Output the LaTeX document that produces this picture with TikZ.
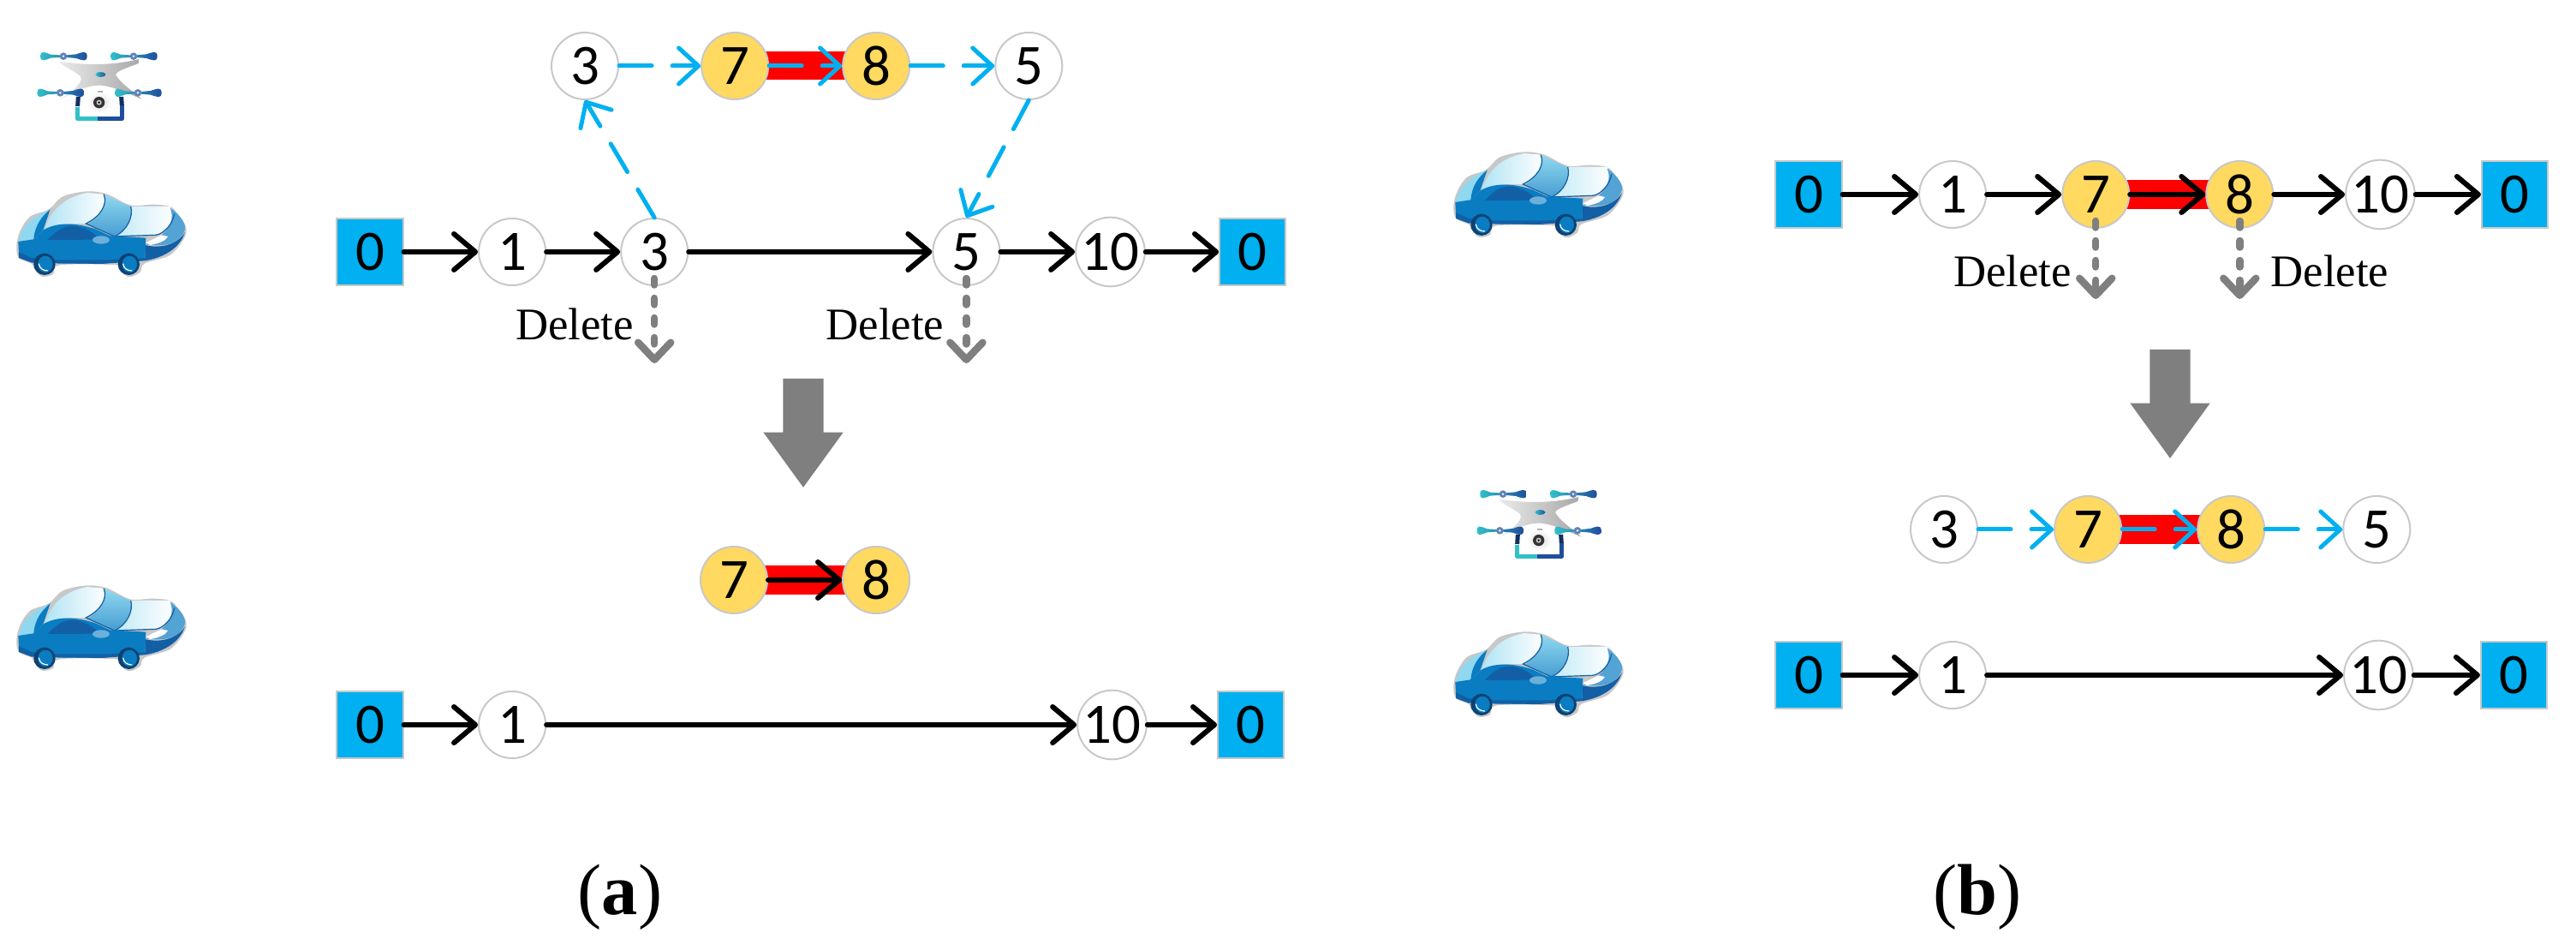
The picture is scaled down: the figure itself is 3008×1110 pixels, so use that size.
\documentclass[tikz,border=0pt]{standalone}
\usepackage{fontspec}
\setmainfont{Carlito}
\newfontfamily\delfont{Liberation Serif}
\usetikzlibrary{shapes.arrows, arrows.meta, backgrounds}
\definecolor{skyblue}{HTML}{00B0F0}
\definecolor{ringgray}{HTML}{C8C8C8}
\definecolor{swapgold}{HTML}{FFD960}
\definecolor{delgray}{HTML}{7F7F7F}
\definecolor{carblue}{HTML}{0A7CC2}
\definecolor{cardark}{HTML}{125FA5}
\definecolor{carlight}{HTML}{8FD8F0}
\definecolor{rotorteal}{HTML}{30C0C8}
\definecolor{rotornavy}{HTML}{1F4E9C}
\tikzstyle{depot} = [rectangle, minimum width=.77cm, minimum height=.78cm, inner sep=0, text centered, draw=ringgray, line width=.02cm, fill=skyblue, font=\fontsize{19}{22}\selectfont]
\tikzstyle{custnode} = [circle, minimum size=.78cm, inner sep=0, text centered, draw=ringgray, line width=.02cm, fill=white, font=\fontsize{19}{22}\selectfont]
\tikzstyle{swapnode} = [custnode, fill=swapgold]
\tikzstyle{deltext} = [inner sep=0, font=\delfont\fontsize{15}{18}\selectfont]
\tikzstyle{subcap} = [inner sep=0, font=\delfont\fontsize{24}{28}\selectfont]
\tikzstyle{arrow} = [line width=.06cm, line cap=round, -{Straight Barb[length=.25cm, width=.42cm, line width=.06cm, round]}]
\tikzstyle{uavarrow} = [line width=.05cm, line cap=round, draw=skyblue, dash pattern=on .38cm off .24cm, -{Straight Barb[length=.23cm, width=.42cm, line width=.05cm, round]}]
\tikzstyle{delarrow} = [line width=.085cm, line cap=round, draw=delgray, dash pattern=on .075cm off .155cm, -{Straight Barb[length=.2cm, width=.38cm, line width=.085cm, round]}]
\tikzstyle{redlink} = [line width=.33cm, draw=red]
\tikzstyle{blockarrow} = [single arrow, rotate=-90, fill=delgray, inner sep=.23cm, minimum width=.92cm, minimum height=1.27cm, single arrow head extend=.23cm, single arrow tip angle=72]
\tikzset{
  car/.pic={
    \fill [ringgray] plot [smooth cycle, tension=.55] coordinates {(52,270) (65,220) (100,170) (165,145) (215,100) (300,82) (370,92) (450,130) (530,128) (590,135) (615,160) (645,205) (640,245) (590,305) (500,335) (485,365) (445,382) (410,355) (400,340) (205,340) (180,372) (140,380) (112,350) (105,335) (60,315)};
    \fill [carlight] (60,258) .. controls (66,215) and (100,170) .. (165,150) -- (130,190) -- (112,250) -- cycle;
    \fill [carblue] (112,250) .. controls (116,200) and (140,170) .. (170,145) -- (145,218) -- cycle;
    \shade [left color=carlight!70, middle color=white, right color=white] (150,215) .. controls (170,160) and (205,105) .. (300,87) -- (355,92) .. controls (370,125) and (345,170) .. (295,195) -- (230,195) -- cycle;
    \shade [top color=carlight, bottom color=carblue!75] (355,92) -- (450,135) .. controls (462,170) and (440,220) .. (395,240) -- (300,198) .. controls (345,170) and (375,125) .. (355,92) -- cycle;
    \shade [left color=carlight!55, right color=white] (455,135) -- (590,135) -- (605,160) .. controls (600,195) and (570,230) .. (540,235) -- (395,240) .. controls (440,220) and (462,170) .. (455,135) -- cycle;
    \fill [carblue!70] (590,140) .. controls (620,160) and (645,190) .. (642,215) .. controls (630,255) and (590,280) .. (505,268) -- (560,235) .. controls (590,210) and (605,175) .. (590,140) -- cycle;
    \fill [cardark] (502,270) .. controls (560,285) and (620,265) .. (642,225) .. controls (630,265) and (590,310) .. (502,325) -- cycle;
    \draw [cardark, line width=.012cm] (358,92) .. controls (372,130) and (345,170) .. (295,195) -- (395,240) .. controls (440,220) and (462,170) .. (452,135);
    \draw [cardark, line width=.012cm] (395,240) -- (540,235) .. controls (570,230) and (600,195) .. (605,160);
    \fill [carblue] (58,258) -- (112,250) -- (145,218) .. controls (190,190) and (260,190) .. (330,215) -- (380,238) -- (505,245) -- (502,320) -- (350,335) -- (200,335) -- (105,320) -- (60,300) -- cycle;
    \fill [cardark] (60,295) -- (105,315) -- (190,322) -- (380,322) -- (505,316) -- (502,325) -- (350,336) -- (105,332) -- (60,315) -- cycle;
    \fill [cardark] (160,252) .. controls (190,225) and (205,205) .. (250,203) .. controls (290,205) and (325,230) .. (345,250) -- (250,252) -- cycle;
    \fill [carblue!60] (348,252) ellipse [x radius=30, y radius=14];
    \fill [white] (505,262) -- (560,235) -- (582,240) .. controls (575,255) and (550,265) .. (520,270) -- cycle;
    \foreach \wx in {150, 445} {
      \fill [cardark!70!black] (\wx,337) circle [radius=38];
      \fill [carblue] (\wx+3,337) ellipse [x radius=26, y radius=29];
      \draw [white, line width=.012cm] (\wx-20,335) .. controls (\wx-18,352) and (\wx-5,360) .. (\wx+12,360);
    }
  },
  drone/.pic={
    \shade [left color=gray!15, right color=gray!70] (120,68) .. controls (200,80) and (300,85) .. (400,60) -- (398,75) .. controls (360,90) and (310,105) .. (320,118) .. controls (340,150) and (390,180) .. (410,200) .. controls (340,170) and (290,150) .. (255,152) .. controls (200,155) and (150,190) .. (115,205) .. controls (150,185) and (210,145) .. (195,120) .. controls (180,105) and (130,85) .. (120,68) -- cycle;
    \shade [left color=rotorteal, right color=rotornavy] (247,114) .. controls (250,102) and (280,102) .. (284,114) .. controls (280,126) and (250,126) .. (247,114) -- cycle;
    \foreach \rx/\ry in {135/50, 381/50, 124/178, 396/178} {
      \shade [left color=rotorteal, right color=rotornavy] (\rx-80,\ry) .. controls (\rx-80,\ry-22) and (\rx-65,\ry-14) .. (\rx-45,\ry-6) -- (\rx,\ry-3) -- (\rx+45,\ry-7) .. controls (\rx+65,\ry-14) and (\rx+83,\ry-22) .. (\rx+83,\ry) .. controls (\rx+83,\ry+22) and (\rx+65,\ry+14) .. (\rx+45,\ry+7) -- (\rx,\ry+3) -- (\rx-45,\ry+6) .. controls (\rx-65,\ry+14) and (\rx-80,\ry+22) .. (\rx-80,\ry) -- cycle;
      \fill [rotornavy!70] (\rx,\ry) circle [radius=13];
      \fill [white] (\rx,\ry) circle [radius=4];
    }
    \fill [gray!70] (255,170) rectangle (273,184);
    \shade [inner color=gray!30, outer color=white] (262,212) ellipse [x radius=44, y radius=36];
    \fill [black!80] (260,212) circle [radius=20];
    \fill [gray!40] (260,212) circle [radius=9];
    \fill [black] (260,212) circle [radius=4];
    \draw [rotornavy!60!black, line width=.05cm] (187,192) -- (185,225);
    \draw [rotorteal, line width=.05cm, line join=round] (185,228) -- (185,268) -- (255,268);
    \draw [rotornavy, line width=.05cm, line join=round] (255,268) -- (340,268) -- (340,222);
    \draw [rotornavy!60!black, line width=.05cm] (338,192) -- (340,222);
  }
}
\begin{document}
\begin{tikzpicture}[x=.01cm, y=-.01cm, node distance=1.66cm]
    \useasboundingbox (0,0) rectangle (3008,1110);

    % part a
    \pic [scale=1/3] at (29,49) {drone};
    \pic [scale=1/3] at (2,196) {car};
    \pic [scale=1/3] at (2,656) {car};

    \node (a0) [depot] at (432,294) {0};
    \node (a1) [custnode, right of=a0] {1};
    \node (a3) [custnode, right of=a1] {3};
    \node (a5) [custnode, right of=a3, node distance=3.64cm] {5};
    \node (a10) [custnode, right of=a5, node distance=1.68cm] {10};
    \node (a00) [depot, right of=a10] {0};

    \node (u3) [custnode] at (683,77) {3};
    \node (u7) [swapnode, right of=u3, node distance=1.75cm] {7};
    \node (u8) [swapnode, right of=u7, node distance=1.65cm] {8};
    \node (u5) [custnode, right of=u8, node distance=1.78cm] {5};

    \draw [arrow] (a0) -- (a1);
    \draw [arrow] (a1) -- (a3);
    \draw [arrow] (a3) -- (a5);
    \draw [arrow] (a5) -- (a10);
    \draw [arrow] (a10) -- (a00);

    \begin{scope}[on background layer]
        \draw [redlink] (u7.center) -- (u8.center);
    \end{scope}
    \draw [uavarrow] (a3.north) -- (u3.south);
    \draw [uavarrow] (u3) -- (u7);
    \draw [uavarrow] (u7) -- (u8);
    \draw [uavarrow] (u8) -- (u5);
    \draw [uavarrow] (u5.south) -- (a5.north);

    \node (gone3) [coordinate, below of=a3, node distance=1.30cm] {};
    \node (gone5) [coordinate, below of=a5, node distance=1.30cm] {};
    \draw [delarrow] ([yshift=.09cm]a3.south) -- (gone3);
    \draw [delarrow] ([yshift=.09cm]a5.south) -- (gone5);
    \node (del3) [deltext, below of=a3, node distance=.84cm, xshift=-.93cm] {Delete};
    \node (del5) [deltext, below of=a5, node distance=.84cm, xshift=-.95cm] {Delete};

    \node (blka) [blockarrow] at (938,489) {};

    \node (c7) [swapnode] at (857,677) {7};
    \node (c8) [swapnode, right of=c7] {8};
    \begin{scope}[on background layer]
        \draw [redlink] (c7.center) -- (c8.center);
    \end{scope}
    \draw [arrow] (c7) -- (c8);

    \node (d0) [depot] at (432,846) {0};
    \node (d1) [custnode, right of=d0] {1};
    \node (d10) [custnode, right of=d1, node distance=7.00cm] {10};
    \node (d00) [depot, right of=d10, node distance=1.62cm] {0};
    \draw [arrow] (d0) -- (d1);
    \draw [arrow] (d1) -- (d10);
    \draw [arrow] (d10) -- (d00);

    \node (capa) [subcap] at (724,1047) {(\textbf{a})};

    % part b
    \pic [scale=1/3] at (1680,150) {car};
    \pic [scale=1/3] at (1710,560) {drone};
    \pic [scale=1/3] at (1680,710) {car};

    \node (e0) [depot] at (2112,227) {0};
    \node (e1) [custnode, right of=e0, node distance=1.68cm] {1};
    \node (e7) [swapnode, right of=e1, node distance=1.67cm] {7};
    \node (e8) [swapnode, right of=e7, node distance=1.68cm] {8};
    \node (e10) [custnode, right of=e8, node distance=1.64cm] {10};
    \node (e00) [depot, right of=e10, node distance=1.57cm] {0};
    \begin{scope}[on background layer]
        \draw [redlink] (e7.center) -- (e8.center);
    \end{scope}
    \draw [arrow] (e0) -- (e1);
    \draw [arrow] (e1) -- (e7);
    \draw [arrow] (e7) -- (e8);
    \draw [arrow] (e8) -- (e10);
    \draw [arrow] (e10) -- (e00);

    \node (gone7) [coordinate, below of=e7, node distance=1.22cm] {};
    \node (gone8) [coordinate, below of=e8, node distance=1.22cm] {};
    \draw [delarrow] ([yshift=.09cm]e7.south) -- (gone7);
    \draw [delarrow] ([yshift=.09cm]e8.south) -- (gone8);
    \node (del7) [deltext, below of=e7, node distance=.89cm, xshift=-.97cm] {Delete};
    \node (del8) [deltext, below of=e8, node distance=.89cm, xshift=1.05cm] {Delete};

    \node (blkb) [blockarrow] at (2534,455) {};

    \node (f3) [custnode] at (2270,618) {3};
    \node (f7) [swapnode, right of=f3, node distance=1.68cm] {7};
    \node (f8) [swapnode, right of=f7, node distance=1.67cm] {8};
    \node (f5) [custnode, right of=f8, node distance=1.70cm] {5};
    \begin{scope}[on background layer]
        \draw [redlink] (f7.center) -- (f8.center);
    \end{scope}
    \draw [uavarrow] (f3) -- (f7);
    \draw [uavarrow] (f7) -- (f8);
    \draw [uavarrow] (f8) -- (f5);

    \node (g0) [depot] at (2112,788) {0};
    \node (g1) [custnode, right of=g0, node distance=1.68cm] {1};
    \node (g10) [custnode, right of=g1, node distance=4.97cm] {10};
    \node (g00) [depot, right of=g10, node distance=1.58cm] {0};
    \draw [arrow] (g0) -- (g1);
    \draw [arrow] (g1) -- (g10);
    \draw [arrow] (g10) -- (g00);

    \node (capb) [subcap] at (2309,1047) {(\textbf{b})};

\end{tikzpicture}
\end{document}
